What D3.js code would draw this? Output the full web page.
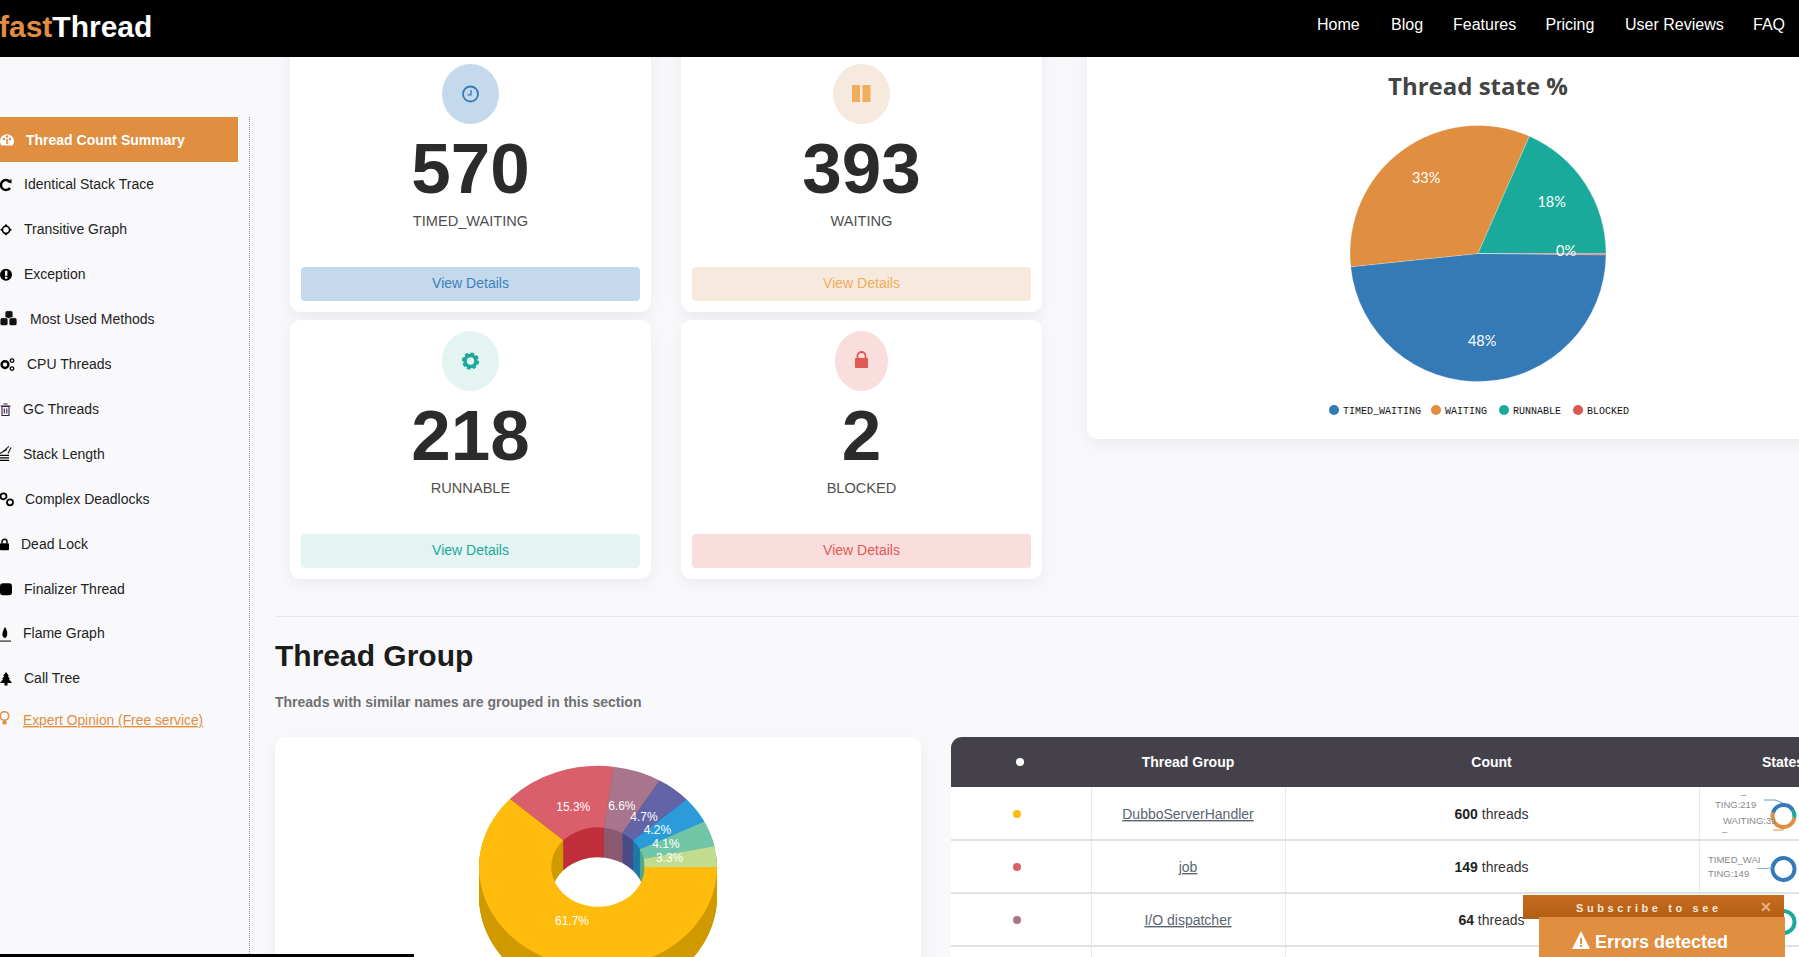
<!DOCTYPE html>
<html>
<head>
<meta charset="utf-8">
<title>fastThread</title>
<script src="https://cdnjs.cloudflare.com/ajax/libs/d3/7.8.5/d3.min.js"></script>
<style>
html, body { margin: 0; padding: 0; background: #f9f9fb; overflow: hidden; }
svg { display: block; }
text { font-family: "Liberation Sans", Arial, sans-serif; }
</style>
</head>
<body>
<script>
// values
var navItems = ["Home", "Blog", "Features", "Pricing", "User Reviews", "FAQ"];
var menuItems = ["Thread Count Summary", "Identical Stack Trace", "Transitive Graph", "Exception", "Most Used Methods", "CPU Threads", "GC Threads", "Stack Length", "Complex Deadlocks", "Dead Lock", "Finalizer Thread", "Flame Graph", "Call Tree"];
var stateNames = ["TIMED_WAITING", "WAITING", "RUNNABLE", "BLOCKED"];
var stateCounts = [570, 393, 218, 2];
var statePercents = ["48%", "33%", "18%", "0%"];
var groupPercents = [61.7, 15.3, 6.6, 4.7, 4.2, 4.1, 3.3];
var tableGroups = ["DubboServerHandler", "job", "I/O dispatcher"];
var tableCounts = [600, 149, 64];
var tableTimed = [219, 149, 0];
var tableWaiting = [315, 0, 0];
var tableRunnable = [66, 0, 64];

var width = 1799, height = 957;
var svg = d3.select("body").append("svg").attr("width", width).attr("height", height);

// colours
var stateColor = d3.scaleOrdinal().domain(stateNames).range(["#347ab6", "#e08e3f", "#1aaa9b", "#dd5753"]);
var groupColors = ["#ffbc0d", "#d9606a", "#a8758c", "#6264a7", "#2b9bd9", "#72c6a8", "#c1dc8f"];
var groupWalls = ["#d09a00", "#c12f3c", "#8a5a70", "#4a4a85", "#1c78a8", "#4fa88c", "#9dbb6a"];

var defs = svg.append("defs");
var shadow = defs.append("filter").attr("id", "shadow").attr("x", "-10%").attr("y", "-10%").attr("width", "120%").attr("height", "125%");
shadow.append("feDropShadow").attr("dx", 0).attr("dy", 5).attr("stdDeviation", 8).attr("flood-color", "#8a93a8").attr("flood-opacity", 0.14);

svg.append("rect").attr("width", width).attr("height", height).attr("fill", "#f9f9fb");

// ---- sidebar ----
var menuY = d3.scaleLinear().domain([0, 12]).range([140, 679]);
var menuIndent = [26, 24, 24, 24, 30, 27, 23, 23, 25, 21, 24, 23, 24];
svg.append("rect").attr("x", 0).attr("y", 117).attr("width", 238).attr("height", 45).attr("fill", "#e08e3f");
svg.append("line").attr("x1", 249.5).attr("x2", 249.5).attr("y1", 117).attr("y2", 954)
    .attr("stroke", "#8d8d8d").attr("stroke-dasharray", "1 1");
svg.selectAll("text.menu").data(menuItems).enter().append("text").attr("class", "menu")
    .attr("x", function(d, i) { return menuIndent[i]; })
    .attr("y", function(d, i) { return menuY(i) + (i == 0 ? 5 : 4.4); })
    .attr("font-size", 14)
    .attr("font-weight", function(d, i) { return i == 0 ? "bold" : "normal"; })
    .attr("fill", function(d, i) { return i == 0 ? "#fff" : "#222"; })
    .text(function(d) { return d; });
svg.append("text").attr("x", 23).attr("y", 725).attr("font-size", 13.8).attr("fill", "#e08e3f")
    .attr("text-decoration", "underline").text("Expert Opinion (Free service)");

// little sidebar icons, drawn by hand since there is no icon font here
function menuIcon(i) {
    var g = svg.append("g").attr("transform", "translate(0," + menuY(i) + ")");
    return g;
}
var ic = menuIcon(0);
ic.append("path").attr("d", "M1.5 5.5A7 7 0 1 1 12.5 5.5Z").attr("fill", "#fff");
ic.append("circle").attr("cx", 4).attr("cy", -1).attr("r", 1.2).attr("fill", "#e08e3f");
ic.append("circle").attr("cx", 10).attr("cy", -1).attr("r", 1.2).attr("fill", "#e08e3f");
ic.append("circle").attr("cx", 7).attr("cy", -3.5).attr("r", 1.2).attr("fill", "#e08e3f");
ic.append("rect").attr("x", 6.2).attr("y", -1).attr("width", 1.6).attr("height", 5).attr("fill", "#e08e3f");
ic = menuIcon(1);
ic.append("path").attr("d", "M9.5 -3.5A5 5 0 1 0 10 3").attr("fill", "none").attr("stroke", "#000").attr("stroke-width", 2.4);
ic.append("path").attr("d", "M7 -3L11.5 -1.5L11.5 -6Z").attr("fill", "#000");
ic = menuIcon(2);
ic.append("circle").attr("cx", 6).attr("r", 3.6).attr("fill", "none").attr("stroke", "#000").attr("stroke-width", 1.6);
ic.append("path").attr("d", "M6 -6L3.8 -3H8.2ZM6 6L3.8 3H8.2ZM0 0L3 -2.2V2.2ZM12 0L9 -2.2V2.2Z").attr("fill", "#000");
ic = menuIcon(3);
ic.append("circle").attr("cx", 6).attr("r", 6).attr("fill", "#000");
ic.append("rect").attr("x", 5).attr("y", -4).attr("width", 2.4).attr("height", 5).attr("fill", "#fff");
ic.append("rect").attr("x", 5).attr("y", 2).attr("width", 2.4).attr("height", 2).attr("fill", "#fff");
ic = menuIcon(4);
[[9, -5], [4, 2], [13, 2]].forEach(function(p) {
    ic.append("rect").attr("x", p[0] - 4).attr("y", p[1] - 4).attr("width", 8).attr("height", 8).attr("rx", 2)
        .attr("fill", "#111").attr("stroke", "#f9f9fb").attr("stroke-width", 0.8);
});
ic = menuIcon(5);
ic.append("circle").attr("cx", 5).attr("cy", 0).attr("r", 3.4).attr("fill", "none").attr("stroke", "#000").attr("stroke-width", 2.4);
ic.append("circle").attr("cx", 12).attr("cy", -4).attr("r", 1.8).attr("fill", "none").attr("stroke", "#000").attr("stroke-width", 1.3);
ic.append("circle").attr("cx", 12).attr("cy", 4).attr("r", 1.8).attr("fill", "none").attr("stroke", "#000").attr("stroke-width", 1.3);
ic = menuIcon(6);
ic.append("path").attr("d", "M2 -3H9V6H2ZM0.5 -3.5H10.5M3.5 -5.5H7.5M4.3 -1V4M6.8 -1V4").attr("fill", "none").attr("stroke", "#3a1f45").attr("stroke-width", 1.1);
ic = menuIcon(7);
ic.append("path").attr("d", "M0 1H9M0 3.5H9M0 6H9").attr("stroke", "#000").attr("stroke-width", 1.3);
ic.append("path").attr("d", "M0 -1L7 -5M2 -2L9 -8M8 -1L11 -7").attr("stroke", "#222").attr("stroke-width", 1.2);
ic = menuIcon(8);
ic.append("circle").attr("cx", 3.5).attr("cy", -3).attr("r", 3).attr("fill", "none").attr("stroke", "#000").attr("stroke-width", 1.8);
ic.append("circle").attr("cx", 10).attr("cy", 3).attr("r", 3).attr("fill", "none").attr("stroke", "#000").attr("stroke-width", 1.8);
ic = menuIcon(9);
ic.append("rect").attr("x", 0).attr("y", -1).attr("width", 9).attr("height", 7).attr("rx", 1).attr("fill", "#000");
ic.append("path").attr("d", "M2 -1V-2.5A2.5 2.5 0 0 1 7 -2.5V-1").attr("fill", "none").attr("stroke", "#000").attr("stroke-width", 1.5);
ic = menuIcon(10);
ic.append("rect").attr("x", 0).attr("y", -6).attr("width", 12).attr("height", 12).attr("rx", 3).attr("fill", "#000");
ic = menuIcon(11);
ic.append("path").attr("d", "M5 -7C8 -3 8 3 5 4C1 3 2 -2 5 -7Z").attr("fill", "#000");
ic.append("path").attr("d", "M0 7H11").attr("stroke", "#000").attr("stroke-width", 1);
ic = menuIcon(12);
ic.append("path").attr("d", "M6 -7L9 -3H7.8L10 0H8.8L12 4H7.5V6.5H4.5V4H0L3.2 0H2L4.2 -3H3Z").attr("fill", "#000");
var bulb = svg.append("g").attr("transform", "translate(0,718)");
bulb.append("circle").attr("cx", 4.5).attr("cy", -2).attr("r", 4.2).attr("fill", "none").attr("stroke", "#e08e3f").attr("stroke-width", 1.6);
bulb.append("rect").attr("x", 2.5).attr("y", 2.5).attr("width", 4).attr("height", 4).attr("rx", 1.2).attr("fill", "#e08e3f");

// ---- count cards ----
var cardX = [290, 290 + 391, 290, 290 + 391];
var cardY = [-40, -40, 320, 320];
var cardH = [352, 352, 259, 259];
var cardNames = ["TIMED_WAITING", "WAITING", "RUNNABLE", "BLOCKED"];
var cardTint = ["#c5d9ed", "#f6e9dd", "#e4f4f3", "#fadddd"];
var cardInk = ["#3f7fbb", "#f0ad5c", "#1aa99b", "#e05a55"];
var cardRx = [28.5, 28.5, 28.5, 26.5];
var rowTop = [64, 64, 331, 331];
var cardCounts = [stateCounts[0], stateCounts[1], stateCounts[2], stateCounts[3]];

cardNames.forEach(function(name, i) {
    var cx = cardX[i] + 180.5, top = rowTop[i];
    svg.append("rect").attr("x", cardX[i]).attr("y", cardY[i]).attr("width", 361).attr("height", cardH[i])
        .attr("rx", 11).attr("fill", "#fff").attr("filter", "url(#shadow)");
    svg.append("ellipse").attr("cx", cx).attr("cy", top + 30).attr("rx", cardRx[i]).attr("ry", 30).attr("fill", cardTint[i]);
    svg.append("text").attr("x", cx).attr("y", top + 129).attr("text-anchor", "middle")
        .attr("font-size", 71).attr("font-weight", "bold").attr("fill", "#2b2b2b").text(cardCounts[i]);
    svg.append("text").attr("x", cx).attr("y", top + 162).attr("text-anchor", "middle")
        .attr("font-size", 14.6).attr("fill", "#4f4f4f").text(name);
    svg.append("rect").attr("x", cardX[i] + 11).attr("y", top + 203).attr("width", 339).attr("height", 34)
        .attr("rx", 4).attr("fill", cardTint[i]);
    svg.append("text").attr("x", cx).attr("y", top + 224).attr("text-anchor", "middle")
        .attr("font-size", 14).attr("fill", cardInk[i]).text("View Details");
});

// card glyphs
var clock = svg.append("g").attr("transform", "translate(470.5,94)");
clock.append("circle").attr("r", 7.5).attr("fill", "none").attr("stroke", "#347ab6").attr("stroke-width", 1.8);
clock.append("path").attr("d", "M0.5 -4V0.8H-3").attr("fill", "none").attr("stroke", "#347ab6").attr("stroke-width", 1.3);
svg.append("rect").attr("x", 852).attr("y", 85).attr("width", 8).attr("height", 17).attr("fill", "#f0ad5c");
svg.append("rect").attr("x", 862.5).attr("y", 85).attr("width", 8).attr("height", 17).attr("fill", "#f0ad5c");
var gear = svg.append("g").attr("transform", "translate(470.5,361)");
gear.append("circle").attr("r", 5.5).attr("fill", "none").attr("stroke", "#1aa99b").attr("stroke-width", 3.6);
gear.append("circle").attr("r", 7.4).attr("fill", "none").attr("stroke", "#1aa99b").attr("stroke-width", 2.4).attr("stroke-dasharray", "3.4 2.4");
svg.append("rect").attr("x", 855).attr("y", 358).attr("width", 13).attr("height", 10).attr("rx", 1).attr("fill", "#e05a55");
svg.append("path").attr("d", "M857.5 358V356A4 4 0 0 1 865.5 356V358").attr("fill", "none").attr("stroke", "#e05a55").attr("stroke-width", 1.8);

// ---- thread state pie ----
svg.append("rect").attr("x", 1087).attr("y", -40).attr("width", 900).attr("height", 479)
    .attr("rx", 11).attr("fill", "#fff").attr("filter", "url(#shadow)");
svg.append("text").attr("x", 1478).attr("y", 95).attr("text-anchor", "middle")
    .attr("style", "font-family:'Open Sans'")
    .attr("font-size", 24).attr("font-weight", 700).attr("fill", "#444").text("Thread state %");

var pieG = svg.append("g").attr("transform", "translate(1478,253.5)");
var pieStart = (90.6 / 180) * Math.PI;
var statePie = d3.pie().sort(null).startAngle(pieStart).endAngle(pieStart + Math.PI * 2);
var stateArc = d3.arc().innerRadius(0).outerRadius(128);
var stateLabelArc = d3.arc().innerRadius(88).outerRadius(88);
var labelNudge = [5, 1, 1.5, 2.5];
var stateSlices = statePie(stateCounts);
pieG.selectAll("path").data(stateSlices).enter().append("path")
    .attr("d", stateArc)
    .attr("fill", function(d, i) { return stateColor(stateNames[i]); })
    .attr("stroke", "#fff").attr("stroke-opacity", 0.4).attr("stroke-width", 0.6);
pieG.selectAll("text").data(stateSlices).enter().append("text")
    .attr("transform", function(d, i) { var c = stateLabelArc.centroid(d); return "translate(" + c[0] + "," + (c[1] + labelNudge[i]) + ")"; })
    .attr("text-anchor", "middle").attr("font-size", 14.5).attr("fill", "#fff")
    .attr("style", "font-family:Lato")
    .text(function(d, i) { return statePercents[i]; });

// legend
var legendDot = [1334, 1436, 1504, 1578];
stateNames.forEach(function(name, i) {
    svg.append("circle").attr("cx", legendDot[i]).attr("cy", 410).attr("r", 5).attr("fill", stateColor(name));
    svg.append("text").attr("x", legendDot[i] + 9).attr("y", 413.5).attr("font-size", 10)
        .attr("style", "font-family:'Liberation Mono'").attr("fill", "#111").text(name);
});

// ---- thread group section ----
svg.append("line").attr("x1", 275).attr("x2", width).attr("y1", 616.5).attr("y2", 616.5).attr("stroke", "#e7e8eb");
svg.append("text").attr("x", 275).attr("y", 666).attr("font-size", 30).attr("font-weight", "bold").attr("fill", "#1c1c1c").text("Thread Group");
svg.append("text").attr("x", 275).attr("y", 707).attr("font-size", 14).attr("font-weight", "bold").attr("fill", "#6f7071")
    .text("Threads with similar names are grouped in this section");

svg.append("rect").attr("x", 275).attr("y", 737).attr("width", 646).attr("height", 320)
    .attr("rx", 11).attr("fill", "#fff").attr("filter", "url(#shadow)");

// 3d donut: the same ring drawn over and over going down gives the walls
var donutX = 598, donutY = 867, tilt = 0.85, donutDepth = 30;
var groupPie = d3.pie().sort(null).startAngle(Math.PI / 2).endAngle(Math.PI * 2.5);
var groupArc = d3.arc().innerRadius(46.7).outerRadius(119);
var groupLabelArc = d3.arc().innerRadius(72).outerRadius(72);
var groupSlices = groupPie(groupPercents);
for (var k = donutDepth; k >= 1; k--) {
    svg.append("g").attr("transform", "translate(" + donutX + "," + (donutY + k) + ") scale(1," + tilt + ")")
        .selectAll("path").data(groupSlices).enter().append("path")
        .attr("d", groupArc)
        .attr("fill", function(d, i) { return groupWalls[i]; });
}
svg.append("g").attr("transform", "translate(" + donutX + "," + donutY + ") scale(1," + tilt + ")")
    .selectAll("path").data(groupSlices).enter().append("path")
    .attr("d", groupArc)
    .attr("fill", function(d, i) { return groupColors[i]; });
svg.selectAll("text.grp").data(groupSlices).enter().append("text").attr("class", "grp")
    .attr("x", function(d) { return donutX + groupLabelArc.centroid(d)[0]; })
    .attr("y", function(d) { return donutY + groupLabelArc.centroid(d)[1] * tilt + 1; })
    .attr("text-anchor", "middle").attr("font-size", 12).attr("fill", "#fff")
    .text(function(d) { return d.data.toFixed(1) + "%"; });

// ---- table ----
var rowY = d3.scaleLinear().domain([0, 1]).range([814, 867]);
var tableX = 951;
svg.append("rect").attr("x", tableX).attr("y", 770).attr("width", 900).attr("height", 200).attr("fill", "#fff");
svg.append("rect").attr("x", tableX).attr("y", 737).attr("width", 900).attr("height", 50).attr("rx", 11).attr("fill", "#45414a");
svg.append("rect").attr("x", tableX).attr("y", 760).attr("width", 900).attr("height", 27).attr("fill", "#45414a");
svg.append("circle").attr("cx", 1020).attr("cy", 762).attr("r", 4).attr("fill", "#fff");
[["Thread Group", 1188], ["Count", 1491.5], ["States", 1783]].forEach(function(h) {
    svg.append("text").attr("x", h[1]).attr("y", 767).attr("text-anchor", "middle")
        .attr("font-size", 14).attr("font-weight", "bold").attr("fill", "#fff").text(h[0]);
});
[1091, 1285, 1699].forEach(function(x) {
    svg.append("line").attr("x1", x + 0.5).attr("x2", x + 0.5).attr("y1", 787).attr("y2", 957).attr("stroke", "#eaeaea");
});
[840, 893, 946].forEach(function(y) {
    svg.append("line").attr("x1", tableX).attr("x2", width).attr("y1", y).attr("y2", y).attr("stroke", "#e2e2e2").attr("stroke-width", 2);
});
tableGroups.forEach(function(name, i) {
    var y = rowY(i);
    svg.append("circle").attr("cx", 1017).attr("cy", y).attr("r", 4).attr("fill", groupColors[i]);
    svg.append("text").attr("x", 1188).attr("y", y + 5).attr("text-anchor", "middle")
        .attr("font-size", 14).attr("fill", "#5b6470").attr("text-decoration", "underline").text(name);
    var t = svg.append("text").attr("x", 1491.5).attr("y", y + 5).attr("text-anchor", "middle")
        .attr("font-size", 14).attr("fill", "#333");
    t.append("tspan").attr("font-weight", "bold").attr("fill", "#222").text(tableCounts[i]);
    t.append("tspan").text(" threads");
});

// little state rings in the last column
var ringPie = d3.pie().sort(null).startAngle(Math.PI * 0.55).endAngle(Math.PI * 2.55);
var ringArc = d3.arc().innerRadius(9).outerRadius(13);
var ringColors = [stateColor("WAITING"), stateColor("TIMED_WAITING"), stateColor("RUNNABLE")];
tableGroups.forEach(function(name, i) {
    svg.append("g").attr("transform", "translate(1783.5," + (rowY(i) + 2) + ")")
        .selectAll("path").data(ringPie([tableWaiting[i], tableTimed[i], tableRunnable[i]])).enter().append("path")
        .attr("d", ringArc)
        .attr("fill", function(d, j) { return ringColors[j]; });
});
function ringLabel(x, y, s) {
    svg.append("text").attr("x", x).attr("y", y).attr("font-size", 9.5).attr("fill", "#8a8a8a").text(s);
}
ringLabel(1741, 798, "\u2013");
ringLabel(1715, 808, "TING:" + tableTimed[0]);
ringLabel(1723, 824, "WAITING:31");
ringLabel(1722, 835, "\u2013");
ringLabel(1708, 863, "TIMED_WAI");
ringLabel(1708, 877, "TING:" + tableTimed[1]);
function leader(d, c) {
    svg.append("path").attr("d", d).attr("fill", "none").attr("stroke", c).attr("stroke-width", 1);
}
leader("M1764 800H1775L1783 803", "#5f9ccf");
leader("M1773 830H1783L1784 825", stateColor("WAITING"));
leader("M1757 868.5H1768L1772 867", "#7fb0d8");

// ---- subscribe popup ----
var popGrad = defs.append("linearGradient").attr("id", "popGrad").attr("x1", 0).attr("x2", 0).attr("y1", 0).attr("y2", 1);
popGrad.append("stop").attr("offset", "0").attr("stop-color", "#c66c1f");
popGrad.append("stop").attr("offset", "1").attr("stop-color", "#b25e15");
svg.append("rect").attr("x", 1523).attr("y", 895).attr("width", 261).attr("height", 24).attr("fill", "url(#popGrad)");
svg.append("text").attr("x", 1576).attr("y", 912).attr("font-size", 11).attr("font-weight", "bold").attr("fill", "#f6e6d6")
    .attr("letter-spacing", 3.6).text("Subscribe to see");
svg.append("text").attr("x", 1766).attr("y", 912).attr("text-anchor", "middle").attr("font-size", 14).attr("font-weight", "bold").attr("fill", "#e9b285").text("\u2715");
svg.append("rect").attr("x", 1539).attr("y", 917).attr("width", 246).attr("height", 40).attr("fill", "#e08e3f");
svg.append("path").attr("d", "M1581 931L1590 949H1572Z").attr("fill", "#fff");
svg.append("rect").attr("x", 1580).attr("y", 938).attr("width", 2).attr("height", 6).attr("fill", "#e08e3f");
svg.append("rect").attr("x", 1580).attr("y", 945).attr("width", 2).attr("height", 2).attr("fill", "#e08e3f");
svg.append("text").attr("x", 1595).attr("y", 948).attr("font-size", 18).attr("font-weight", "bold").attr("fill", "#fff").text("Errors detected");

// black strip at the very bottom
svg.append("rect").attr("x", 0).attr("y", 954).attr("width", 414).attr("height", 3).attr("fill", "#000");

// ---- top bar goes last, the cards slide under it ----
svg.append("rect").attr("width", width).attr("height", 57).attr("fill", "#000");
var logo = svg.append("text").attr("x", -1).attr("y", 37).attr("font-size", 30).attr("font-weight", "bold").attr("fill", "#fff");
logo.append("tspan").attr("fill", "#e08e3f").text("fast");
logo.append("tspan").text("Thread");
var navX = [1317, 1391, 1453, 1545.5, 1625, 1753];
svg.selectAll("text.nav").data(navItems).enter().append("text").attr("class", "nav")
    .attr("x", function(d, i) { return navX[i]; }).attr("y", 30)
    .attr("font-size", 16).attr("fill", "#fff").text(function(d) { return d; });
</script>
</body>
</html>
